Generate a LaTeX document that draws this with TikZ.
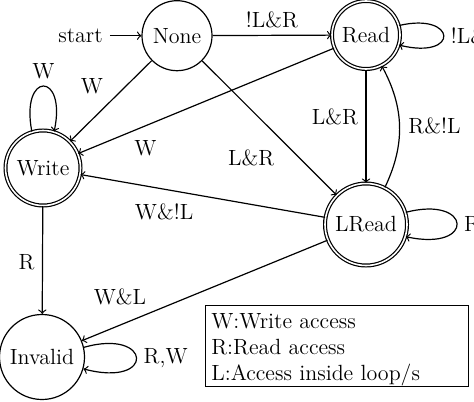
\documentclass[tikz,border=0pt]{standalone}
\begin{document}
\begin{tikzpicture}[x=0.5pt,y=-0.5pt,
  every node/.style={font=\fontsize{11}{13}\selectfont},
  line width=0.6pt,
  stnode/.style={circle,draw,inner sep=0pt},
  accnode/.style={stnode,double,double distance=0.8pt}]
\useasboundingbox (0,0) rectangle (474,401);
\node[stnode,minimum size=35pt] (None) at (177,35.7) {None};
\node[accnode,minimum size=34pt] (Read) at (366,35) {Read};
\node[accnode,minimum size=37.5pt] (Write) at (43,168) {Write};
\node[accnode,minimum size=41pt] (LRead) at (366,224.5) {LRead};
\node[stnode,minimum size=42.5pt] (Invalid) at (42,357) {Invalid};
\node (start) at (80.5,35.7) {start};
\node[draw,align=left,text width=125.65pt,inner xsep=2.85pt,inner ysep=0.5pt,
  text height=10.85pt,text depth=28.65pt,anchor=north west] (legend) at (205,305)
  {W:Write access\\R:Read access\\L:Access inside loop/s};

\draw[->] (start) -- (None);
\draw[->] (None) -- (Read) node[midway,yshift=7.5pt]{!L\&R};
\draw[->] (Read.16) .. controls (457,12) and (460,60) .. (Read.-17) node[midway,right]{!L\&R};
\draw[->] (Read) -- (LRead) node[pos=0.5,xshift=-15.5pt,yshift=4.75pt]{L\&R};
\draw[->] (LRead) to[bend right=27] node[midway,xshift=17.5pt]{R\&!L} (Read);
\draw[->] (None) -- (Write) node[midway,xshift=-9.5pt,yshift=7.5pt]{W};
\draw[->] (Read) -- (Write) node[pos=0.77,xshift=4.25pt,yshift=-9.35pt]{W};
\draw[->] (None) -- (LRead) node[midway,xshift=-9.15pt,yshift=-14.9pt]{L\&R};
\draw[->] (LRead) -- (Write) node[pos=0.65,xshift=-1pt,yshift=-11.15pt]{W\&!L};
\draw[->] (Write) -- (Invalid) node[midway,xshift=-8pt,yshift=-1pt]{R};
\draw[->] (LRead) -- (Invalid) node[pos=0.8,xshift=-5.5pt,yshift=12pt]{W\&L};
\draw[->] (Write.107) .. controls (20,71) and (67,71) .. (Write.73) node[midway,above]{W};
\draw[->] (LRead.17) .. controls (472,195) and (476,252) .. (LRead.-17) node[midway,right]{R};
\draw[->] (Invalid.13) .. controls (152,328) and (156,388) .. (Invalid.-16) node[midway,right]{R,W};
\end{tikzpicture}
\end{document}
